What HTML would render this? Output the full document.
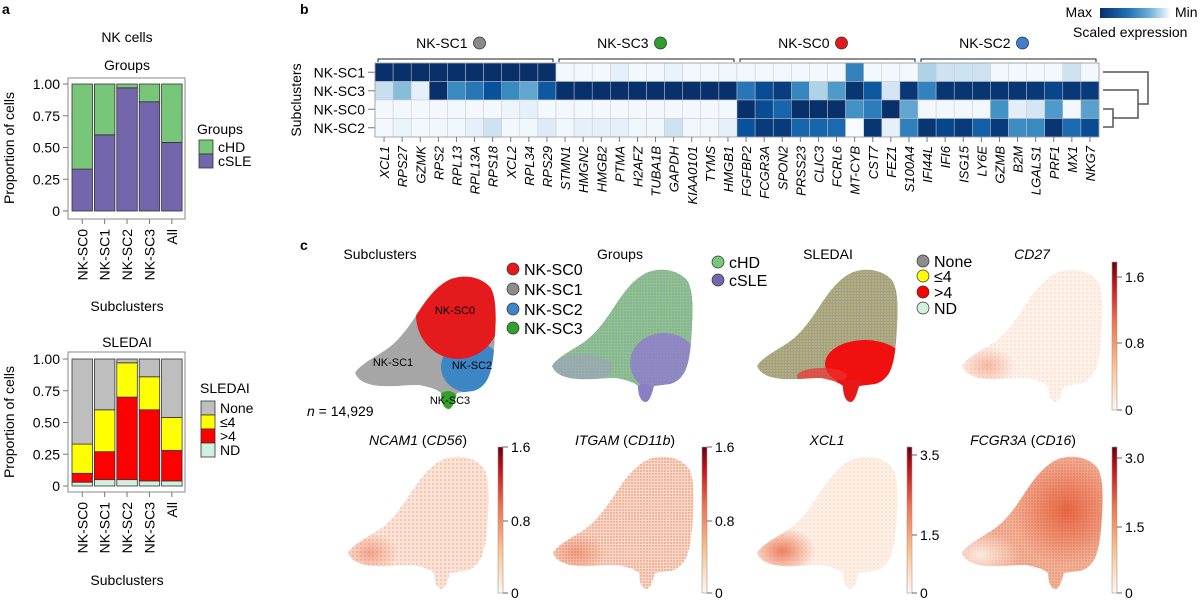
<!DOCTYPE html>
<html><head><meta charset="utf-8"><style>
html,body{margin:0;padding:0;background:#fff;}
svg{display:block;font-family:"Liberation Sans",Arial,sans-serif;}
</style></head><body>
<svg id="fig" width="1200" height="600" viewBox="0 0 1200 600" xmlns="http://www.w3.org/2000/svg">
<defs>
<linearGradient id="blues" x1="0" x2="1" y1="0" y2="0"><stop offset="0" stop-color="#08306b"/><stop offset="0.4" stop-color="#2171b5"/><stop offset="0.7" stop-color="#6baed6"/><stop offset="1" stop-color="#f7fbff"/></linearGradient>
<linearGradient id="reds" x1="0" x2="0" y1="1" y2="0"><stop offset="0" stop-color="#fff7ef"/><stop offset="0.3" stop-color="#fdc18c"/><stop offset="0.6" stop-color="#f0704c"/><stop offset="0.85" stop-color="#c0141a"/><stop offset="1" stop-color="#6a000d"/></linearGradient>
<path id="umap" d="M0,98 C4,90 20,82 32,74 C46,64 56,48 64,36 C72,24 82,10 96,4 C110,-1 126,2 135,12 C142,22 141,45 140,60 C139,80 137,100 130,108 C126,113 122,115 118,116 L102,118 C100,125 98,133 94,134 C88,134 86,125 86,118 C80,113 72,112 64,110 C50,110 40,112 25,111 C12,110 3,106 0,98 Z"/>
<clipPath id="uclip"><use href="#umap"/></clipPath>
<pattern id="speck" width="4" height="4" patternUnits="userSpaceOnUse"><circle cx="1" cy="1" r="0.7" fill="#d9472b" opacity="0.55"/></pattern>
<pattern id="speck2" width="3" height="3" patternUnits="userSpaceOnUse"><circle cx="1" cy="1" r="0.7" fill="#d9472b" opacity="0.7"/></pattern>
<pattern id="purp" width="3" height="3" patternUnits="userSpaceOnUse"><circle cx="1" cy="2" r="0.8" fill="#7c6fbf" opacity="0.7"/></pattern>
<pattern id="grn" width="3" height="3" patternUnits="userSpaceOnUse"><circle cx="1" cy="1" r="0.8" fill="#78c679" opacity="0.7"/></pattern>
<pattern id="yel" width="3" height="3" patternUnits="userSpaceOnUse"><circle cx="2" cy="1" r="0.8" fill="#f2ea1a" opacity="0.8"/></pattern>
<radialGradient id="hotL" cx="0.5" cy="0.5" r="0.5"><stop offset="0" stop-color="#e8643f" stop-opacity="0.8"/><stop offset="1" stop-color="#e8643f" stop-opacity="0"/></radialGradient>
<radialGradient id="hotR" cx="0.5" cy="0.5" r="0.5"><stop offset="0" stop-color="#e45a36" stop-opacity="0.85"/><stop offset="1" stop-color="#e45a36" stop-opacity="0"/></radialGradient>
<radialGradient id="paleL" cx="0.5" cy="0.5" r="0.5"><stop offset="0" stop-color="#fbeee4" stop-opacity="0.95"/><stop offset="1" stop-color="#fbeee4" stop-opacity="0"/></radialGradient>
</defs>

<text x="2" y="14" font-size="14" font-weight="bold">a</text>
<text x="127" y="42" font-size="14" text-anchor="middle">NK cells</text>
<text x="127" y="70" font-size="14" text-anchor="middle">Groups</text>
<text transform="translate(14,148) rotate(-90)" font-size="14" text-anchor="middle">Proportion of cells</text>
<text x="127" y="311" font-size="14" text-anchor="middle">Subclusters</text>
<g id="barA"></g>
<text x="197" y="134" font-size="14">Groups</text>
<rect x="199" y="140" width="14" height="14" fill="#78c679" stroke="#333" stroke-width="0.8"/>
<text x="218" y="152" font-size="14">cHD</text>
<rect x="199" y="154" width="14" height="14" fill="#7466ad" stroke="#333" stroke-width="0.8"/>
<text x="218" y="166" font-size="14">cSLE</text>

<text x="127" y="347" font-size="14" text-anchor="middle">SLEDAI</text>
<text transform="translate(14,422) rotate(-90)" font-size="14" text-anchor="middle">Proportion of cells</text>
<text x="127" y="585" font-size="14" text-anchor="middle">Subclusters</text>
<g id="barB"></g>
<text x="200" y="393" font-size="14">SLEDAI</text>
<rect x="201" y="401" width="14" height="14" fill="#bebebe" stroke="#333" stroke-width="0.8"/>
<text x="220" y="413" font-size="14">None</text>
<rect x="201" y="415" width="14" height="14" fill="#ffff00" stroke="#333" stroke-width="0.8"/>
<text x="220" y="427" font-size="14">≤4</text>
<rect x="201" y="429" width="14" height="14" fill="#ff0000" stroke="#333" stroke-width="0.8"/>
<text x="220" y="441" font-size="14">&gt;4</text>
<rect x="201" y="443" width="14" height="14" fill="#d0f0e0" stroke="#333" stroke-width="0.8"/>
<text x="220" y="455" font-size="14">ND</text>

<text x="300" y="14" font-size="14" font-weight="bold">b</text>
<text transform="translate(301,100) rotate(-90)" font-size="14" text-anchor="middle">Subclusters</text>
<g id="heat"></g>
<text x="1092" y="17" font-size="14" text-anchor="end">Max</text>
<rect x="1100" y="8" width="70" height="10" fill="url(#blues)"/>
<text x="1175" y="17" font-size="14">Min</text>
<text x="1073" y="37" font-size="14">Scaled expression</text>
<g fill="none" stroke="#555" stroke-width="1.5">
<path d="M1103,109 H1113 V127 H1103"/>
<path d="M1103,90 H1138 V118 H1113"/>
<path d="M1103,72 H1148 V104 H1138"/>
</g>

<text x="300" y="250" font-size="14" font-weight="bold">c</text>
<g id="umaps"></g>
<text x="307" y="416" font-size="14"><tspan font-style="italic">n</tspan> = 14,929</text>
</svg>
<script>
const NS='http://www.w3.org/2000/svg';
function mk(tag,attrs,parent,txt){const e=document.createElementNS(NS,tag);for(const k in attrs)e.setAttribute(k,attrs[k]);if(txt!==undefined)e.textContent=txt;parent.appendChild(e);return e;}

// ---- Bar chart data ----
const barCategories=['NK-SC0','NK-SC1','NK-SC2','NK-SC3','All'];
const cSLE=[0.33,0.60,0.97,0.86,0.54];
const sledaiND=[0.03,0.05,0.05,0.04,0.04];
const sledaiGt4=[0.07,0.22,0.65,0.56,0.24];
const sledaiLe4=[0.23,0.33,0.27,0.26,0.26];
const yTicks=[0,0.25,0.5,0.75,1];
const yTickLabels=['0','0.25','0.50','0.75','1.00'];

function barChart(g,top,boxBottom,y0,stacks){
  const yS=v=>y0-v*127;
  const xS=i=>72+i*22.4;
  mk('rect',{x:68,y:top,width:117,height:boxBottom-top,fill:'none',stroke:'#888','stroke-width':1},g);
  yTicks.forEach((t,i)=>{
    mk('line',{x1:63,x2:68,y1:yS(t),y2:yS(t),stroke:'#777'},g);
    const lb=mk('text',{x:60,y:yS(t)+5,'font-size':14,'text-anchor':'end'},g,yTickLabels[i]);
    
    
  });
  barCategories.forEach((c,i)=>{
    let acc=0;
    stacks.forEach(s=>{
      const v=s.vals[i];
      const r=mk('rect',{x:xS(i),y:yS(acc+v),width:20.5,height:v*127,fill:s.color,stroke:'#333','stroke-width':0.8},g);
      
      
      acc+=v;
    });
    const cx=xS(i)+10.25;
    mk('line',{x1:cx,x2:cx,y1:boxBottom,y2:boxBottom+5,stroke:'#777'},g);
    const t=mk('text',{transform:`translate(${cx+5},${boxBottom+10}) rotate(-90)`,'font-size':14,'text-anchor':'end'},g,c);
    
    
  });
}
const cHD=cSLE.map(v=>1-v);
barChart(document.getElementById('barA'),78,219,211,[{name:'csle',vals:cSLE,color:'#7466ad'},{name:'chd',vals:cHD,color:'#78c679'}]);
const sledaiNone=barCategories.map((c,i)=>1-sledaiND[i]-sledaiGt4[i]-sledaiLe4[i]);
barChart(document.getElementById('barB'),352,492,486,[{name:'nd',vals:sledaiND,color:'#d0f0e0'},{name:'gt4',vals:sledaiGt4,color:'#ff0000'},{name:'le4',vals:sledaiLe4,color:'#ffff00'},{name:'none',vals:sledaiNone,color:'#bebebe'}]);

// ---- Heatmap data ----
const genes=['XCL1','RPS27','GZMK','RPS2','RPL13','RPL13A','RPS18','XCL2','RPL34','RPS29','STMN1','HMGN2','HMGB2','PTMA','H2AFZ','TUBA1B','GAPDH','KIAA0101','TYMS','HMGB1','FGFBP2','FCGR3A','SPON2','PRSS23','CLIC3','FCRL6','MT-CYB','CST7','FEZ1','S100A4','IFI44L','IFI6','ISG15','LY6E','GZMB','B2M','LGALS1','PRF1','MX1','NKG7'];
const rowNames=['NK-SC1','NK-SC3','NK-SC0','NK-SC2'];
const rowSC1=[1,1,1,1,1,1,1,1,1,1, .03,.03,.03,.1,.03,.03,.08,.03,.03,.05, .03,.03,.03,.03,.03,.03,.65,.03,.03,.03, .3,.2,.2,.2,.03,.03,.03,.03,.2,.03];
const rowSC3=[.22,.4,.1,1,.6,.72,.88,.6,.48,.85, 1,1,1,1,1,1,1,1,1,1, .72,.9,.95,.62,.3,.52,.98,.85,.18,.97, .65,.98,.98,.98,.98,.98,.97,.92,.97,.96];
const rowSC0=[.03,.03,.03,.03,.03,.03,.03,.06,.1,.03, .03,.03,.03,.03,.03,.03,.03,.03,.03,.03, 1,.9,.8,1,1,1,.55,.68,1,.48, .03,.03,.03,.03,.55,.12,.18,.52,.03,.5];
const rowSC2=[.03,.07,.03,.05,.05,.1,.2,.03,.04,.15, .04,.1,.1,.1,.05,.05,.2,.05,.05,.1, .88,.96,.96,.8,.8,.78,0,.98,.1,.66, .98,.92,.96,.82,.96,.58,.6,.98,.78,.9];
const heatRows=[rowSC1,rowSC3,rowSC0,rowSC2];
const groupLabels=['NK-SC1','NK-SC3','NK-SC0','NK-SC2'];
const groupDotColors=['#8a8a8a','#2ca02c','#e31a1c','#3d7fcc'];

function blue(v){
  const stops=[[0,[247,251,255]],[0.15,[222,235,247]],[0.35,[158,202,225]],[0.55,[66,146,198]],[0.75,[33,113,181]],[0.88,[8,81,156]],[1,[8,48,107]]];
  for(let i=1;i<stops.length;i++){if(v<=stops[i][0]){const a=stops[i-1],b=stops[i],t=(v-a[0])/(b[0]-a[0]);return 'rgb('+a[1].map((c,k)=>Math.round(c+(b[1][k]-c)*t)).join(',')+')';}}
  return 'rgb(8,48,107)';
}
(function(){
  const g=document.getElementById('heat');
  const x0=375,cw=18.1,y0=63,rh=18.5;
  const xS=j=>x0+j*cw, yS=i=>y0+i*rh;
  heatRows.forEach((row,i)=>{
    row.forEach((v,j)=>{
      const r=mk('rect',{x:xS(j),y:yS(i),width:cw,height:rh,fill:blue(v),stroke:'#c8c8c8','stroke-width':0.5},g);
      
      
    });
    mk('line',{x1:368,x2:375,y1:yS(i)+rh/2,y2:yS(i)+rh/2,stroke:'#777'},g);
    const t=mk('text',{x:365,y:yS(i)+rh/2+5,'font-size':14,'text-anchor':'end'},g,rowNames[i]);
    
    
  });
  mk('rect',{x:x0,y:y0,width:cw*40,height:rh*4,fill:'none',stroke:'#999','stroke-width':0.8},g);
  genes.forEach((gn,j)=>{
    const cx=xS(j)+cw/2;
    mk('line',{x1:cx,x2:cx,y1:y0+rh*4,y2:y0+rh*4+5,stroke:'#777'},g);
    const t=mk('text',{transform:`translate(${cx+5},${y0+rh*4+9}) rotate(-90)`,'font-size':13,'font-style':'italic','text-anchor':'end'},g,gn);
    
    
  });
  groupLabels.forEach((gl,k)=>{
    const xa=xS(k*10)+3,xb=xS(k*10+10)-3;
    const br=mk('path',{d:`M${xa},${y0-1} V${y0-4} H${xb} V${y0-1}`,fill:'none',stroke:'#222','stroke-width':1},g);
    
    
    const cx=(xa+xb)/2;
    const t=mk('text',{x:cx+2,y:y0-15,'font-size':14,'text-anchor':'end'},g,gl);
    
    
    const c=mk('circle',{cx:cx+14,cy:y0-20,r:6,fill:groupDotColors[k],stroke:'#333','stroke-width':0.8},g);
    
    
  });
})();

// ---- UMAP panels (shape drawn as filled regions) ----
const U=document.getElementById('umaps');
function panel(name,tx,ty,inner){
  const g=mk('g',{transform:`translate(${tx},${ty})`},U);
  
  
  const c=mk('g',{'clip-path':'url(#uclip)'},g);
  c.innerHTML=inner;
  return g;
}
function ptitle(x,y,html,name){const t=mk('text',{x:x,y:y,'font-size':14,'text-anchor':'middle'},U);t.innerHTML=html;}
function cbar(x,yTop,yBot,ticks,name){
  const g=mk('g',{},U);
  
  
  mk('rect',{x:x,y:yTop,width:5,height:yBot-yTop,fill:'url(#reds)',stroke:'#999','stroke-width':0.6},g);
  ticks.forEach(t=>{mk('line',{x1:x+5,x2:x+10,y1:t[1],y2:t[1],stroke:'#666'},g);mk('text',{x:x+13,y:t[1]+5,'font-size':14},g,t[0]);});
}
panel('umap-subclusters',355,275,'<use href="#umap" fill="#a6a6a6"/><ellipse cx="116" cy="92" rx="30" ry="26" fill="#3d86c6"/><ellipse cx="103" cy="40" rx="42" ry="44" fill="#e41a1c"/><circle cx="93" cy="126" r="10" fill="#33a02c"/>');
mk('text',{x:455,y:314,'font-size':11,'text-anchor':'middle'},U,'NK-SC0');
mk('text',{x:393,y:366,'font-size':11,'text-anchor':'middle'},U,'NK-SC1');
mk('text',{x:472,y:369,'font-size':11,'text-anchor':'middle'},U,'NK-SC2');
mk('text',{x:450,y:404,'font-size':11,'text-anchor':'middle'},U,'NK-SC3');
ptitle(380,259,'Subclusters','umap-subclusters-title');
[['NK-SC0','#e41a1c',269],['NK-SC1','#8c8c8c',289],['NK-SC2','#3d86c6',309],['NK-SC3','#33a02c',328]].forEach(l=>{
  const c=mk('circle',{cx:513,cy:l[2],r:6,fill:l[1],stroke:'#333','stroke-width':0.7},U);
  
  
  mk('text',{x:524,y:l[2]+6,'font-size':16},U,l[0]);
});
panel('umap-groups',552,268,'<use href="#umap" fill="#8ec28e"/><rect width="150" height="140" fill="url(#purp)" opacity="0.6"/><ellipse cx="112" cy="95" rx="34" ry="30" fill="#8f84c6"/><ellipse cx="112" cy="95" rx="34" ry="30" fill="url(#grn)" opacity="0.4"/><ellipse cx="30" cy="100" rx="30" ry="14" fill="#a19bc8" opacity="0.5"/><circle cx="92" cy="126" r="10" fill="#8a7ec4"/>');
ptitle(620,259,'Groups','umap-groups-title');
[['cHD','#78c679',262],['cSLE','#7466ad',280]].forEach(l=>{
  const c=mk('circle',{cx:718,cy:l[2],r:6,fill:l[1],stroke:'#333','stroke-width':0.7},U);
  
  
  mk('text',{x:729,y:l[2]+6,'font-size':16},U,l[0]);
});
panel('umap-sledai',757,268,'<use href="#umap" fill="#a2a08c"/><rect width="150" height="140" fill="url(#yel)" opacity="0.6"/><ellipse cx="108" cy="96" rx="40" ry="24" fill="#f01010"/><ellipse cx="65" cy="108" rx="25" ry="8" fill="#f03030" opacity="0.7"/><rect x="80" y="112" width="25" height="25" fill="#e81818"/>');
ptitle(828,259,'SLEDAI','umap-sledai-title');
[['None','#8c8c8c',261],['≤4','#ffff00',276],['>4','#ff0000',292],['ND','#d0f0e0',308]].forEach(l=>{
  const c=mk('circle',{cx:923,cy:l[2],r:6,fill:l[1],stroke:'#333','stroke-width':0.7},U);
  
  
  mk('text',{x:934,y:l[2]+6,'font-size':16},U,l[0]);
});
panel('umap-cd27',962,268,'<use href="#umap" fill="#fdf1e8"/><rect width="150" height="140" fill="url(#speck)" opacity="0.35"/><ellipse cx="25" cy="98" rx="28" ry="20" fill="url(#hotL)" opacity="0.5"/>');
ptitle(1032,259,'<tspan font-style="italic">CD27</tspan>','umap-cd27-title');
cbar(1112,262,410,[['1.6',277],['0.8',343],['0',410]],'colorbar-cd27');
panel('umap-ncam1',348,455,'<use href="#umap" fill="#fbe3d6"/><rect width="150" height="140" fill="url(#speck)" opacity="0.8"/><ellipse cx="22" cy="98" rx="28" ry="20" fill="url(#hotL)" opacity="0.6"/>');
ptitle(418,445,'<tspan font-style="italic">NCAM1</tspan> (<tspan font-style="italic">CD56</tspan>)','umap-ncam1-title');
cbar(498,447,593,[['1.6',447],['0.8',521],['0',593]],'colorbar-ncam1');
panel('umap-itgam',553,455,'<use href="#umap" fill="#f9d8c6"/><rect width="150" height="140" fill="url(#speck2)" opacity="0.9"/><ellipse cx="24" cy="98" rx="28" ry="20" fill="url(#hotL)" opacity="0.6"/>');
ptitle(625,445,'<tspan font-style="italic">ITGAM</tspan> (<tspan font-style="italic">CD11b</tspan>)','umap-itgam-title');
cbar(702,447,593,[['1.6',447],['0.8',521],['0',593]],'colorbar-itgam');
panel('umap-xcl1',757,455,'<use href="#umap" fill="#fdefe4"/><rect width="150" height="140" fill="url(#speck)" opacity="0.3"/><ellipse cx="25" cy="96" rx="34" ry="24" fill="url(#hotL)"/>');
ptitle(827,445,'<tspan font-style="italic">XCL1</tspan>','umap-xcl1-title');
cbar(907,447,593,[['3.5',455],['1.5',535],['0',593]],'colorbar-xcl1');
panel('umap-fcgr3a',962,455,'<use href="#umap" fill="#f3b398"/><ellipse cx="105" cy="55" rx="55" ry="55" fill="url(#hotR)"/><rect width="150" height="140" fill="url(#speck2)" opacity="0.7"/><ellipse cx="18" cy="100" rx="40" ry="24" fill="url(#paleL)"/>');
ptitle(1023,445,'<tspan font-style="italic">FCGR3A</tspan> (<tspan font-style="italic">CD16</tspan>)','umap-fcgr3a-title');
cbar(1112,447,593,[['3.0',458],['1.5',527],['0',593]],'colorbar-fcgr3a');
</script>
</body></html>
